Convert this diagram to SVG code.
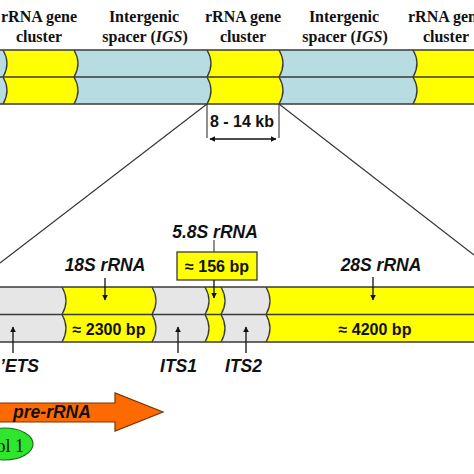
<svg xmlns="http://www.w3.org/2000/svg" width="474" height="474" viewBox="0 0 474 474">
<style>
.tl{font-family:"Liberation Serif","Times New Roman",serif;font-weight:bold;font-size:16px;fill:#111;text-anchor:middle}
.lb{font-family:"Liberation Sans",Arial,sans-serif;font-weight:bold;font-style:italic;font-size:17.5px;fill:#111;text-anchor:middle}
.bp{font-family:"Liberation Sans",Arial,sans-serif;font-weight:bold;font-size:16px;fill:#111;text-anchor:middle}
.y{fill:#ffff00}
.b{fill:#b7dde3}
.g{fill:#e6e6e6}
.edge{fill:none;stroke:#3a3a3a;stroke-width:1.3}
.ln{fill:none;stroke:#333;stroke-width:1.1}
.ar{fill:none;stroke:#111;stroke-width:1.3;marker-end:url(#ah)}
</style>
<defs>
<marker id="ah" viewBox="0 0 10 10" refX="9" refY="5" markerWidth="6" markerHeight="7" markerUnits="userSpaceOnUse" orient="auto">
<path d="M0,0 L10,5 L0,10 z" fill="#111"/>
</marker>
<marker id="ahs" viewBox="0 0 10 10" refX="1" refY="5" markerWidth="6" markerHeight="7" markerUnits="userSpaceOnUse" orient="auto">
<path d="M10,0 L0,5 L10,10 z" fill="#111"/>
</marker>
</defs>
<rect width="474" height="474" fill="#fff"/>

<g id="top-labels">
<text class="tl" x="39" y="22">rRNA gene</text>
<text class="tl" x="39" y="42">cluster</text>
<text class="tl" x="144" y="22">Intergenic</text>
<text class="tl" x="145" y="42">spacer (<tspan font-style="italic">IGS</tspan>)</text>
<text class="tl" x="243" y="22">rRNA gene</text>
<text class="tl" x="243" y="42">cluster</text>
<text class="tl" x="344" y="22">Intergenic</text>
<text class="tl" x="345" y="42">spacer (<tspan font-style="italic">IGS</tspan>)</text>
<text class="tl" x="446" y="22">rRNA gene</text>
<text class="tl" x="446" y="42">cluster</text>
</g>

<g id="cluster-band">
<rect class="b" x="0" y="50" width="474" height="54"/>
<path class="y" d="M3,50 L74,50 Q82,63.5 74,77 Q82,90.5 74,104 L3,104 Q11,90.5 3,77 Q11,63.5 3,50 Z"/>
<path class="y" d="M207,50 L279,50 Q287,63.5 279,77 Q287,90.5 279,104 L207,104 Q215,90.5 207,77 Q215,63.5 207,50 Z"/>
<path class="y" d="M413,50 L474,50 L474,104 L413,104 Q421,90.5 413,77 Q421,63.5 413,50 Z"/>
<path class="edge" d="M0,50 H474 M0,77 H474 M0,104 H474"/>
<path class="edge" d="M3,50 Q11,63.5 3,77 Q11,90.5 3,104 M74,50 Q82,63.5 74,77 Q82,90.5 74,104 M207,50 Q215,63.5 207,77 Q215,90.5 207,104 M279,50 Q287,63.5 279,77 Q287,90.5 279,104 M413,50 Q421,63.5 413,77 Q421,90.5 413,104"/>
</g>

<text id="size-label" class="bp" x="242" y="127">8 - 14 kb</text>

<g id="gene-band">
<rect class="g" x="0" y="287" width="474" height="55"/>
<path class="y" d="M62,287 L152,287 Q160,300.75 152,314.5 Q160,328.25 152,342 L62,342 Q70,328.25 62,314.5 Q70,300.75 62,287 Z"/>
<path class="y" d="M205,287 L221,287 Q229,300.75 221,314.5 Q229,328.25 221,342 L205,342 Q213,328.25 205,314.5 Q213,300.75 205,287 Z"/>
<path class="y" d="M266,287 L474,287 L474,342 L266,342 Q274,328.25 266,314.5 Q274,300.75 266,287 Z"/>
<path class="edge" d="M0,287 H474 M0,314.5 H474 M0,342 H474"/>
<path class="edge" d="M62,287 Q70,300.75 62,314.5 Q70,328.25 62,342 M152,287 Q160,300.75 152,314.5 Q160,328.25 152,342 M205,287 Q213,300.75 205,314.5 Q213,328.25 205,342 M221,287 Q229,300.75 221,314.5 Q229,328.25 221,342 M266,287 Q274,300.75 266,314.5 Q274,328.25 266,342"/>
<text class="bp" x="109" y="335">≈ 2300 bp</text>
<text class="bp" x="375" y="335">≈ 4200 bp</text>
</g>

<g id="label-18S"><text class="lb" x="105" y="271">18S rRNA</text></g>
<g id="label-5-8S">
<text class="lb" x="215" y="238">5.8S rRNA</text>
<rect x="177" y="252" width="80" height="28" fill="#ffff00" stroke="#3a3a3a" stroke-width="1.3"/>
<text class="bp" x="217" y="272">≈ 156 bp</text>
</g>
<g id="label-28S"><text class="lb" x="381" y="271">28S rRNA</text></g>
<g id="label-ETS"><text class="lb" x="39" y="372" style="text-anchor:end">’ETS</text></g>
<g id="label-ITS1"><text class="lb" x="178.5" y="372">ITS1</text></g>
<g id="label-ITS2"><text class="lb" x="243.5" y="372">ITS2</text></g>

<g id="connectors">
<path class="ln" d="M207,104 L0,263"/>
<path class="ln" d="M279,104 L474,255"/>
<path class="ln" d="M207,104 V138 M279,104 V138"/>
<path fill="none" stroke="#111" stroke-width="1.3" marker-start="url(#ahs)" marker-end="url(#ah)" d="M210,139 H276"/>
<path class="ln" d="M214,240 V252"/>
<path class="ar" d="M105,278 V300"/>
<path class="ar" d="M214,280 V298"/>
<path class="ar" d="M373,277 V300"/>
<path class="ar" d="M13,353 V327"/>
<path class="ar" d="M178,353 V327"/>
<path class="ar" d="M246,353 V327"/>
</g>

<g id="pre-rRNA">
<polygon points="-5,403 115,403 115,393 163,412 115,431 115,422 -5,422" fill="#ff6a00" stroke="#7a3300" stroke-width="1.2"/>
<text class="lb" x="52" y="418">pre-rRNA</text>
</g>

<g id="pol1">
<ellipse cx="5" cy="444" rx="28" ry="16" fill="#2ee62e" stroke="#1d6e1d" stroke-width="1.2"/>
<text x="24" y="452" font-family="'Liberation Serif','Times New Roman',serif" font-size="18" fill="#111" text-anchor="end">ol 1</text>
</g>
</svg>
